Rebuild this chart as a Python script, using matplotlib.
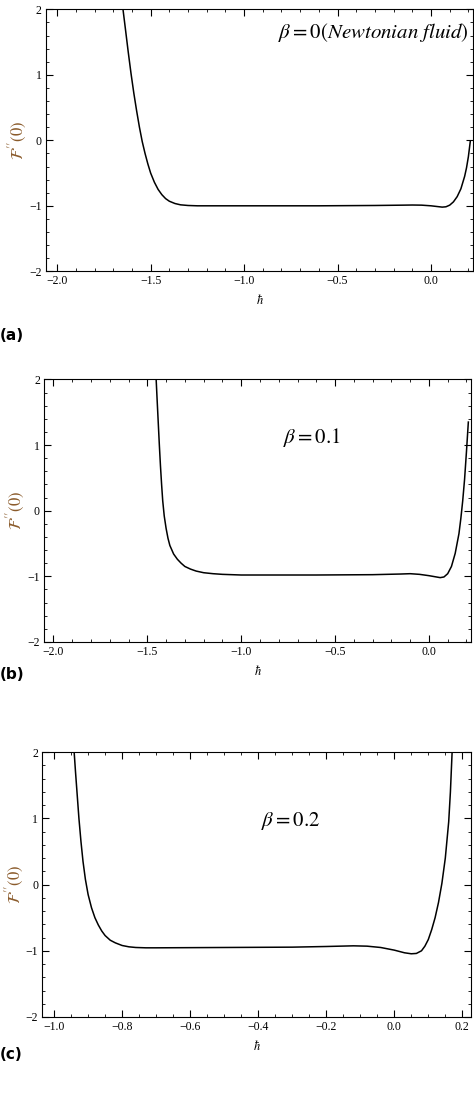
import matplotlib
matplotlib.use("Agg")
import matplotlib.pyplot as plt
from matplotlib.ticker import MultipleLocator

plt.rcParams['font.family'] = ['Liberation Serif', 'DejaVu Serif']
plt.rcParams['mathtext.fontset'] = 'stix'

# panel (a): beta = 0
xa = [-1.648, -1.635, -1.62, -1.605, -1.59, -1.575, -1.56, -1.545, -1.53, -1.515, -1.50, -1.48,
      -1.46, -1.44, -1.42, -1.40, -1.37, -1.34, -1.30, -1.25, -1.2, -1.0,
      -0.6, -0.3, -0.15, -0.1, -0.05, 0.0, 0.03, 0.06, 0.08, 0.10, 0.12, 0.14, 0.16, 0.18,
      0.19, 0.20, 0.21]
ya = [2.0, 1.7, 1.35, 1.02, 0.72, 0.45, 0.2, -0.02, -0.2, -0.36, -0.5, -0.64,
      -0.75, -0.83, -0.89, -0.93, -0.965, -0.985, -0.995, -1.0, -1.0, -1.0,
      -1.0, -0.995, -0.99, -0.988, -0.99, -1.0, -1.01, -1.02, -1.015, -0.99, -0.94, -0.86, -0.74,
      -0.55, -0.42, -0.25, -0.02]
# panel (b): beta = 0.1
xb = [-1.453, -1.448, -1.442, -1.436, -1.43, -1.424, -1.418, -1.41, -1.40, -1.39, -1.38, -1.36,
      -1.34, -1.32, -1.30, -1.27, -1.24, -1.2, -1.15, -1.1, -1.0,
      -0.6, -0.3, -0.15, -0.1, -0.05, 0.0, 0.03, 0.06, 0.08, 0.10, 0.12, 0.14, 0.16, 0.17,
      0.18, 0.19, 0.20, 0.21]
yb = [2.0, 1.7, 1.35, 1.0, 0.68, 0.4, 0.15, -0.08, -0.27, -0.42, -0.53, -0.66,
      -0.74, -0.8, -0.85, -0.89, -0.92, -0.945, -0.96, -0.97, -0.98,
      -0.98, -0.975, -0.965, -0.96, -0.97, -0.99, -1.005, -1.02, -1.01, -0.96, -0.85, -0.65, -0.35, -0.12,
      0.15, 0.48, 0.9, 1.35]
# panel (c): beta = 0.2
xc = [-0.941, -0.937, -0.932, -0.927, -0.921, -0.915, -0.908, -0.90, -0.89, -0.88, -0.87, -0.86,
      -0.85, -0.835, -0.82, -0.80, -0.78, -0.76, -0.73, -0.7,
      -0.5, -0.3, -0.2, -0.12, -0.08, -0.04, 0.0, 0.03, 0.05, 0.065, 0.08, 0.09, 0.10, 0.11, 0.12,
      0.13, 0.14, 0.15, 0.16, 0.165, 0.17]
yc = [2.0, 1.7, 1.35, 1.0, 0.65, 0.35, 0.08, -0.15, -0.35, -0.5, -0.61, -0.7,
      -0.77, -0.84, -0.88, -0.92, -0.94, -0.95, -0.955, -0.955,
      -0.95, -0.945, -0.935, -0.925, -0.93, -0.95, -0.99, -1.03, -1.045, -1.04, -1.0, -0.93, -0.83, -0.68, -0.5,
      -0.27, 0.02, 0.4, 0.95, 1.4, 2.0]

fig = plt.figure(figsize=(4.74, 10.94), dpi=100)

panels = [
    ([0.097, 0.752, 0.901, 0.2395], xa, ya, (-2.06, 0.225), 0.5, 0.1,
     r"$\beta = 0(\mathit{Newtonian\ fluid})$", (0.99, 0.91), 'right', 0.693, "(a)"),
    ([0.093, 0.4132, 0.901, 0.240], xb, yb, (-2.05, 0.225), 0.5, 0.1,
     r"$\beta = 0.1$", (0.56, 0.78), 'left', 0.383, "(b)"),
    ([0.089, 0.0704, 0.905, 0.242], xc, yc, (-1.035, 0.226), 0.2, 0.05,
     r"$\beta\mathit{=0.2}$", (0.51, 0.74), 'left', 0.036, "(c)"),
]

for rect, x, y, xlim, major, minor, label, pos, ha, lab_y, tag in panels:
    ax = fig.add_axes(rect)
    ax.plot(x, y, color='black', lw=1.1)
    ax.set_xlim(*xlim)
    ax.set_ylim(-2, 2)
    ax.xaxis.set_major_locator(MultipleLocator(major))
    ax.xaxis.set_minor_locator(MultipleLocator(minor))
    ax.yaxis.set_major_locator(MultipleLocator(1))
    ax.yaxis.set_minor_locator(MultipleLocator(0.2))
    ax.tick_params(which='both', direction='in', top=True, right=True, labelsize=8.5, pad=3)
    ax.tick_params(which='major', length=5)
    ax.tick_params(which='minor', length=2.5)
    ax.set_xticklabels([f"{t:.1f}".replace('-', '\u2212') for t in ax.get_xticks()])
    ax.set_yticklabels([f"{int(t)}".replace('-', '\u2212') for t in ax.get_yticks()])
    ax.set_xlabel(r"$\hbar$", fontsize=9)
    ax.set_ylabel(r"$\mathcal{F}''(0)$", fontsize=12, color='#8a5a2a', labelpad=0)
    ax.text(pos[0], pos[1], label, transform=ax.transAxes, ha=ha, va='center', fontsize=15)
    fig.text(0.0, lab_y, tag, fontsize=11, fontweight='bold', ha='left', va='center',
             family='DejaVu Sans')

fig.savefig("out.png", dpi=100)
